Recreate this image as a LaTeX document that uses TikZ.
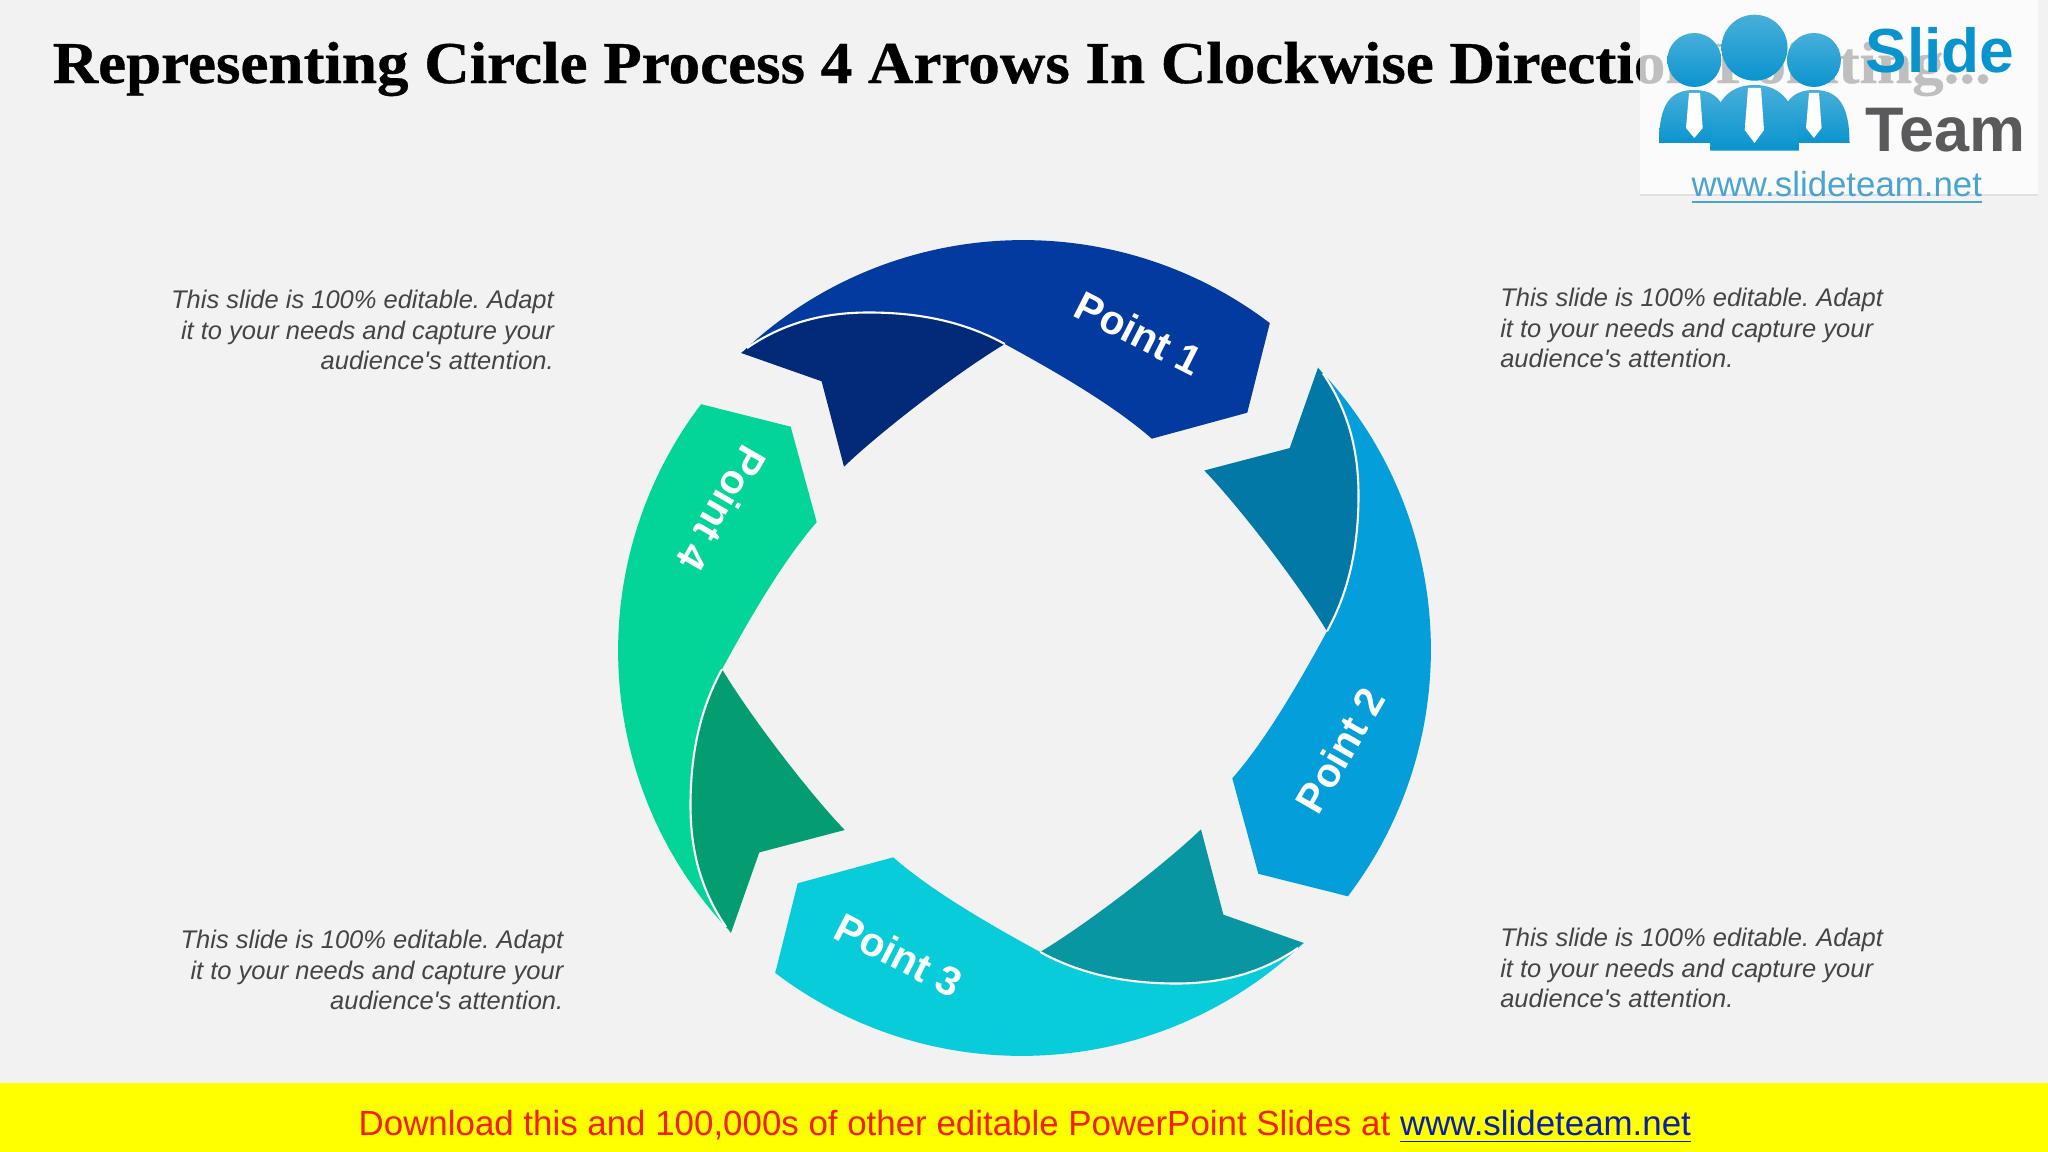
\documentclass[tikz,border=0pt]{standalone}
\usepackage{fontspec}
\setmainfont{Liberation Sans}[Ligatures=TeXOff]
\newfontfamily\titlefont{Liberation Serif}[FakeStretch=1.06,BoldFeatures={FakeBold=0.6}]
\usepackage{xcolor}
\frenchspacing
\definecolor{slidebg}{RGB}{242,242,243}
\definecolor{bandone}{RGB}{3,58,160}
\definecolor{foldone}{RGB}{3,42,120}
\definecolor{bandtwo}{RGB}{4,159,219}
\definecolor{foldtwo}{RGB}{2,120,166}
\definecolor{bandthree}{RGB}{8,204,218}
\definecolor{foldthree}{RGB}{8,151,162}
\definecolor{bandfour}{RGB}{3,212,152}
\definecolor{foldfour}{RGB}{3,157,113}
\definecolor{notegray}{RGB}{68,68,70}
\definecolor{logoblue}{RGB}{10,148,206}
\definecolor{logogray}{RGB}{90,90,92}
\definecolor{linkblue}{RGB}{75,163,208}
\definecolor{footyellow}{RGB}{255,255,0}
\definecolor{footred}{RGB}{245,30,0}
\definecolor{footblue}{RGB}{10,30,170}
\tikzset{
  foldline/.style={draw=white, line width=0.6pt},
  pointlabel/.style={text=white, font=\bfseries\fontsize{11.6}{14}\selectfont},
  notetext/.style={text=notegray, font=\itshape\fontsize{7.25}{8.7}\selectfont, inner sep=0pt},
  logobody/.style={top color=#1!75!white, bottom color=#1},
  logotie/.style={fill=white}
}
\newcommand{\notewords}{This slide is 100\% editable. Adapt\\it to your needs and capture your\\audience's attention.}
% one arrow of the ring, drawn at the top and turned around the centre
\newcommand{\pointarrow}[4]{%
\begin{scope}[shift={(#2)},rotate around={#1:(1023,648)}]
\fill[#4] (741.2,353) -- (821.6,381.3) -- (844,466.7)
  .. controls (879,433) and (955,374) .. (1004.8,344)
  .. controls (965,322) and (920,312.5) .. (868.8,312.5)
  .. controls (825,312.5) and (780,322) .. (741.2,353) -- cycle;
\fill[#3] (1269.8,323.1) arc[start angle=-52.8, end angle=-133.7, radius=408]
  .. controls (780,322) and (825,312.5) .. (868.8,312.5)
  .. controls (920,312.5) and (965,322) .. (1004.8,344)
  .. controls (1045,366) and (1110,402) .. (1151.8,438.7)
  -- (1247.3,412.7) -- cycle;
\draw[foldline] (747,348) .. controls (785,322) and (825,312.5) .. (868.8,312.5)
  .. controls (920,312.5) and (965,322) .. (1004.8,344);
\end{scope}}

\begin{document}
\begin{tikzpicture}[x=0.01cm,y=-0.01cm]
\useasboundingbox (0,0) rectangle (2048,1152);
% Background and title
\fill[slidebg] (0,0) rectangle (2048,1152);
\node[anchor=west, inner sep=0pt] (title) at (52,69) {\titlefont\bfseries\fontsize{16.9}{19}\selectfont Representing Circle Process 4 Arrows In Clockwise Direction Pointing...};

% Logo box over the title
\fill[white, opacity=0.75] (1640,0) rectangle (2038,195);
\draw[black!12, line width=0.4pt] (1640,195) -- (2038,195);
\shade[logobody=logoblue] (1659,143) .. controls (1659,102) and (1672,90) .. (1694,90) .. controls (1716,90) and (1729,102) .. (1729,143) -- cycle;
\shade[logobody=logoblue] (1779,143) .. controls (1779,102) and (1792,90) .. (1814,90) .. controls (1836,90) and (1849.5,102) .. (1849.5,143) -- cycle;
\shade[logobody=logoblue] (1710.4,150.7) .. controls (1710.4,102) and (1728,85) .. (1754.5,85) .. controls (1781,85) and (1798.9,102) .. (1798.9,150.7) -- cycle;
\shade[logobody=logoblue] (1694.3,60) circle (27);
\shade[logobody=logoblue] (1813.9,60) circle (27);
\shade[logobody=logoblue] (1754.5,47.7) circle (33);
\fill[logotie] (1689,93) -- (1700,93) -- (1702.7,128) -- (1694.3,138) -- (1686,128) -- cycle;
\fill[logotie] (1809,93) -- (1819,93) -- (1821.6,128) -- (1813.9,138) -- (1806,128) -- cycle;
\fill[logotie] (1748,88) -- (1761,88) -- (1764,130) -- (1754.5,143) -- (1744.7,130) -- cycle;
\node[text=logoblue, inner sep=0pt, anchor=west] (slide) at (1865,50) {\bfseries\fontsize{17.7}{20}\selectfont Slide};
\node[text=logogray, inner sep=0pt, anchor=west] (team) at (1865,130) {\bfseries\fontsize{17.9}{20}\selectfont Team};
\node[text=linkblue, inner sep=0pt, anchor=west] (link) at (1691,188) {\fontsize{9.9}{12}\selectfont\underline{www.slideteam.net}};

% Four arrows
\pointarrow{-270}{3,3}{bandfour}{foldfour}
\pointarrow{-180}{-1,0}{bandthree}{foldthree}
\pointarrow{-90}{0,1.5}{bandtwo}{foldtwo}
\pointarrow{0}{0,0}{bandone}{foldone}

% Point labels
\node[pointlabel, rotate=-27] (point1) at (1139,333) {Point 1};
\node[pointlabel, rotate=60] (point2) at (1340,750) {Point 2};
\node[pointlabel, rotate=-27] (point3) at (899,955) {Point 3};
\node[pointlabel, rotate=240] (point4) at (722,509) {Point 4};

% Notes
\node[notetext, align=right, anchor=east] (note1) at (554.5,330) {\notewords};
\node[notetext, align=left, anchor=west] (note2) at (1499.6,328) {\notewords};
\node[notetext, align=right, anchor=east] (note3) at (564,970) {\notewords};
\node[notetext, align=left, anchor=west] (note4) at (1499.6,968) {\notewords};

% Footer band
\fill[footyellow] (0,1083) rectangle (2048,1152);
\node[inner sep=0pt, anchor=west] (footer) at (358,1127) {\fontsize{9.92}{12}\selectfont\textcolor{footred}{Download this and 100,000s of other editable PowerPoint Slides at }\textcolor{footblue}{\underline{www.slideteam.net}}};
\end{tikzpicture}
\end{document}
